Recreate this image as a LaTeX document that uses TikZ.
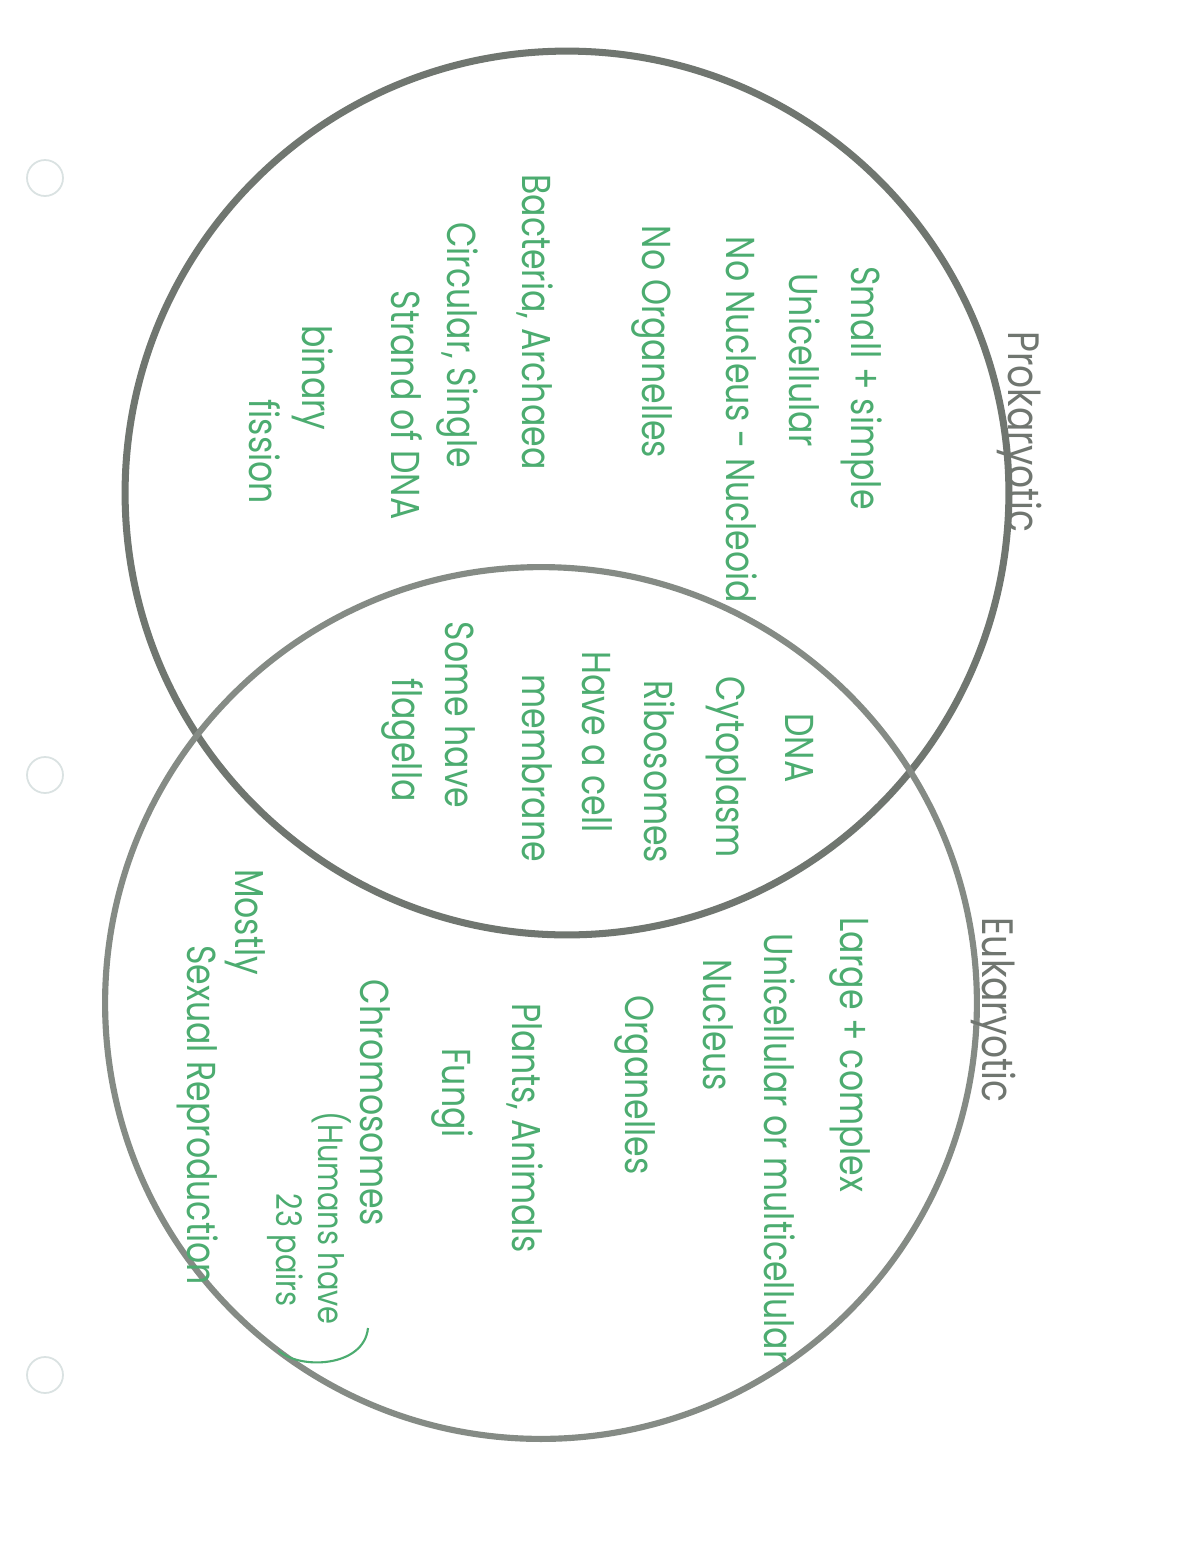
\documentclass[tikz,border=0pt]{standalone}
\usepackage{fontspec}
\setmainfont{Poppins}[FakeStretch=0.82]
\definecolor{pengreen}{RGB}{76,172,112}
\definecolor{pencil}{RGB}{112,118,112}
\definecolor{holegray}{RGB}{218,226,226}

\begin{document}
\begin{tikzpicture}[x=0.02cm,y=-0.02cm,
  note/.style={text=pengreen,font=\fontsize{23}{27}\selectfont,rotate=-90,inner sep=0pt},
  setname/.style={text=pencil,font=\fontsize{25}{29}\selectfont,rotate=-90,inner sep=0pt},
  ring/.style={circle,draw=pencil,line width=3.5pt,inner sep=0pt}]
  \useasboundingbox (0,0) rectangle (1200,1553);
  \fill[white] (0,0) rectangle (1200,1553);
  % punch holes
  \foreach \y in {178,775,1375} {
    \draw[holegray,line width=1pt] (45,\y) circle (0.36cm);
  }
  %
  % the two sets
  \node[ring,minimum size=17.68cm,line width=4pt] (prok) at (567,493) {};
  \node[ring,minimum size=17.44cm,draw=pencil!85] (euk) at (541,1003) {};
  \node[setname] (prokname) at (1020,432) {Prokaryotic};
  \node[setname] (eukname) at (994,1010) {Eukaryotic};
  %
  % prokaryotic only
  \foreach \x/\y/\t [count=\i] in {862/388/Small + simple, 805/360/Unicellular,
      742/420/No Nucleus - Nucleoid, 652/342/No Organelles, 535/322/{Bacteria, Archaea},
      457/345/{Circular, Single}, 407/405/Strand of DNA, 313/378/binary, 265/452/fission} {
    \node[note] (pro\i) at (\x,\y) {\t};
  }
  %
  % shared
  \foreach \x/\y/\t [count=\i] in {800/748/DNA, 726/767/Cytoplasm, 660/772/Ribosomes,
      597/742/Have a cell, 537/768/membrane, 460/715/Some have, 402/740/flagella} {
    \node[note] (both\i) at (\x,\y) {\t};
  }
  %
  % eukaryotic only
  \foreach \x/\y/\t [count=\i] in {850/1055/Large + complex, 780/1148/Unicellular or multicellular,
      718/1025/Nucleus, 635/1085/Organelles, 525/1128/{Plants, Animals}, 452/1093/Fungi,
      375/1103/Chromosomes, 245/922/Mostly, 198/1115/Sexual Reproduction} {
    \node[note] (eu\i) at (\x,\y) {\t};
  }
  \node[note,font=\fontsize{20}{24}\selectfont] (humans) at (332,1218) {(Humans have};
  \node[note,font=\fontsize{20}{24}\selectfont] (pairs) at (285,1250) {23 pairs};
  \draw[pengreen,line width=1.2pt] (368,1328) .. controls (364,1368) and (298,1370) .. (278,1350); % closing bracket
\end{tikzpicture}
\end{document}
